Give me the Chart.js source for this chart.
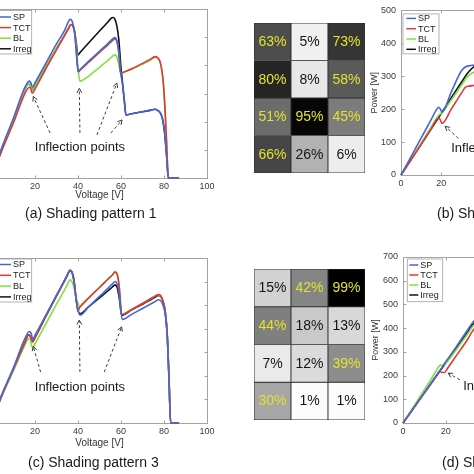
<!DOCTYPE html>
<html><head><meta charset="utf-8">
<script src="https://cdn.jsdelivr.net/npm/chart.js@4.4.0/dist/chart.umd.min.js"></script>
<style>
html,body{margin:0;padding:0;background:#fff;}
body{width:474px;height:474px;overflow:hidden;position:relative;font-family:"Liberation Sans",Arial,sans-serif;}
canvas{position:absolute;}
.cap{position:absolute;font-size:14px;color:#1a1a1a;white-space:nowrap;line-height:16px;}
</style></head><body>
<canvas id="cA" width="260" height="210" style="left:-30px;top:0px"></canvas>
<canvas id="hA" width="113" height="152" style="left:253px;top:22px"></canvas>
<canvas id="cB" width="270" height="210" style="left:355px;top:0px"></canvas>
<canvas id="cC" width="260" height="215" style="left:-30px;top:245px"></canvas>
<canvas id="hC" width="113" height="153" style="left:253px;top:268px"></canvas>
<canvas id="cD" width="280" height="215" style="left:355px;top:245px"></canvas>
<div class="cap" style="left:25px;top:205px">(a) Shading pattern 1</div>
<div class="cap" style="left:437px;top:205px">(b) Shading pattern 2</div>
<div class="cap" style="left:28px;top:454px">(c) Shading pattern 3</div>
<div class="cap" style="left:442px;top:454px">(d) Shading pattern 4</div>
<script>
// ---------- series ----------
const seriesNames = ['SP','TCT','BL','Irreg'];
const seriesColors = ['#4466d8','#e03838','#80e03c','#111111'];
const xTickStep = 20;
const yTickStep = 100;

// Panel (a) - shading pattern 1
const aSP_V  = [0,3.7,10,15.5,17.4,18.1,18.8,20,25,30,34,35.3,36.3,37.2,38,38.8,39.5,40.1,41,45,50,54,56,57.2,58,58.8,59.5,59.9,60.8,61.6,62.3,65,70,74,75.8,77,78.2,79.3,80.3,81.2,82,87];
const aSP_P  = [0,90,213,325,344,338,322,338,407,476,528,552,563,558,535,490,420,377,385,415,450,478,493,499,490,460,410,371,330,270,224,228,235,241,244,240,232,210,160,80,0,0];
const aTCT_V = [0,3.7,10,15.5,17.4,18.1,18.7,20,25,30,34,35.5,36.7,37.6,38.4,39.2,40.1,41,45,50,54,56,57.2,58,58.8,59.9,61,65,70,74,75.8,77,78.2,79,79.7,80.5,81.3,82,87];
const aTCT_P = [0,80,196,303,322,316,301,316,387,455,509,530,545,540,520,450,377,383,411,446,473,488,494,486,455,371,375,388,407,423,431,428,413,383,336,240,110,0,0];
const aBL_V  = [0,3.7,10,15.5,16.9,17.8,18.7,20,25,30,34,35.5,36.7,37.6,38.4,39.2,40,40.9,45,50,54,56,57.2,58,58.8,59.9,61,65,70,74,75.8,77,78.2,79,79.7,80.5,81.3,82,87];
const aBL_P  = [0,85,205,318,336,330,313,328,394,459,510,530,545,540,520,470,390,344,362,393,418,432,437,430,410,371,375,386,404,420,428,425,410,380,336,240,110,0,0];
const aIR_V  = [0,3.7,10,15.5,16.9,17.8,18.7,20,25,30,34,35.5,36.7,37.6,38.4,39.2,39.9,41,45,50,54,55.2,56.2,57.2,58.2,59,59.9,60.8,61.6,62.3,65,70,74,75.8,77,78.2,79.3,80.3,81.2,82,87];
const aIR_P  = [0,85,205,318,336,330,313,328,394,459,510,530,545,540,520,480,437,446,480,522,555,566,570,563,535,490,400,330,270,224,228,235,241,244,240,232,210,160,80,0,0];

// Panel (b) - shading pattern 2 (visible part)
const bSP_V  = [0,5,10,15,17.5,18.7,19.6,20.4,25,30,32,34,36.5,38];
const bSP_P  = [0,56,112,168,197,206,200,191,252,316,328,332,334,336];
const bTCT_V = [0,10,15,18.5,19.3,20.5,25,30,32,34,36.5,38];
const bTCT_P = [0,93,140,172,170,157,200,248,266,270,272,273];
const bBL_V  = [0,10,15,17,19,20.5,25,30,33,35,36.5,38];
const bBL_P  = [0,97,146,166,183,189,228,272,298,308,313,316];
const bIR_V  = [0,10,20,30,33,35,36.5,38];
const bIR_P  = [0,93,187,281,308,322,330,335];

// Panel (c) - shading pattern 3
const cSP_V  = [0,3.7,10,15.5,17.4,18.2,19,20,25,30,34,35.2,36.2,37.2,38.2,39.2,40.9,45,50,54,56,57.2,58.2,59.2,60.6,65,70,74,76,77.4,78.6,79.7,80.6,81.5,82.3,83.1,87];
const cSP_P  = [0,100,235,362,388,380,355,372,457,542,610,630,646,640,600,520,457,493,537,572,590,600,590,545,439,461,486,506,516,523,518,495,460,370,195,0,0];
const cTCT_V = [0,3.7,10,15.5,16.9,17.8,18.9,20,25,30,34,35.2,36.2,37.2,38.2,39.2,39.9,40.9,45,50,54,56,57.2,58.2,59.2,60.3,65,70,74,76,77.4,78.6,79.7,80.6,81.5,82.3,83.1,87];
const cTCT_P = [0,97,229,345,374,368,345,362,452,539,608,630,648,640,600,520,474,492,531,575,611,628,641,632,577,460,482,507,528,539,545,539,513,472,376,196,0,0];
const cBL_V  = [0,3.7,10,15.5,16.9,17.8,18.9,20,25,30,34,35.2,36.3,37.2,38.2,39.2,40.9,45,50,54,56,57.2,58.2,59.2,60.3,65,70,74,76,77.4,78.6,79.7,80.6,81.5,82.3,83.1,87];
const cBL_P  = [0,95,222,335,358,352,318,336,420,504,569,590,607,600,572,530,495,531,575,611,628,639,630,575,460,482,507,528,539,544,538,512,472,376,196,0,0];
const cIR_V  = [0,3.7,10,15.5,16.9,17.8,18.9,20,25,30,34,35.2,36.2,37.2,38.2,39.2,40.9,45,50,54,56,57.2,58.2,59.2,60.3,65,70,74,76,77.4,78.6,79.7,80.6,81.5,82.3,83.1,87];
const cIR_P  = [0,97,229,345,374,368,345,362,452,539,608,630,648,640,600,520,463,494,531,561,577,586,575,530,457,480,504,524,534,541,535,510,470,375,195,0,0];

// Panel (d) - shading pattern 4 (visible part)
const dSP_V  = [0,10,17,20,25,30,33.1,35,37];
const dSP_P  = [0,128,218,258,323,390,430,440,445];
const dTCT_V = [0,10,16.5,17.3,18,19.5,21,25,30,33.1,35,37];
const dTCT_P = [0,127,210,219,214,213,233,285,350,395,408,413];
const dBL_V  = [0,10,15,16.5,17.5,18.5,20,25,30,33.1,35,37];
const dBL_P  = [0,140,212,235,244,243,252,310,373,413,424,428];
const dIR_V  = [0,10,17,20,25,30,33.1,35,37];
const dIR_P  = [0,127,216,254,318,381,420,430,434];

// Shading maps (percent shading per module, rows top to bottom)
const shadeA = [[63,5,73],[80,8,58],[51,95,45],[66,26,6]];
const shadeC = [[15,42,99],[44,18,13],[7,12,39],[30,1,1]];

// Annotations: [tailV, tailP, headV, headP]
const aArrows = [[27,160,19.2,289],[40.9,160,40.6,318],[48.8,153,58.1,337],[55.3,160,60.5,206]];
const bArrows = [[28.6,111,22,148]];
const cArrows = [[22.6,216,19.2,325],[40.9,216,40.6,436],[52.2,216,60.3,408]];
const dArrows = [[26.6,182,21.1,210]];
const noteText = 'Inflection points';

// ---------- helpers ----------
Chart.defaults.font.family = '"Liberation Sans", Arial, Helvetica, sans-serif';
const FONT = '"Liberation Sans", Arial, Helvetica, sans-serif';
const pts = (V,P) => V.map((v,i)=>({x:v,y:P[i]}));

const frame = {
  id:'frame',
  beforeDatasetsDraw(chart){
    const {ctx, chartArea:ca, scales:{x,y}} = chart;
    ctx.save();
    ctx.strokeStyle='#a3a3a3'; ctx.lineWidth=1;
    const L=Math.round(ca.left)+0.5, T=Math.round(ca.top)+0.5, R=Math.round(ca.right)+0.5, B=Math.round(ca.bottom)+0.5;
    ctx.strokeRect(L,T,R-L,B-T);
    ctx.beginPath();
    x.ticks.forEach(t=>{const p=Math.round(x.getPixelForValue(t.value))+0.5; ctx.moveTo(p,B); ctx.lineTo(p,B-3); ctx.moveTo(p,T); ctx.lineTo(p,T+3);});
    y.ticks.forEach(t=>{const p=Math.round(y.getPixelForValue(t.value))+0.5; ctx.moveTo(L,p); ctx.lineTo(L+3,p); ctx.moveTo(R,p); ctx.lineTo(R-3,p);});
    ctx.stroke();
    ctx.restore();
  }
};

function makeLegend(o){
  return {
    id:'boxLegend',
    afterDraw(chart){
      const {ctx, chartArea:ca} = chart;
      const x0 = ca.left + o.x, y0 = ca.top + o.y;
      ctx.save();
      ctx.fillStyle='#fff'; ctx.fillRect(x0,y0,o.w,o.h);
      ctx.strokeStyle='#a0a0a0'; ctx.lineWidth=0.8; ctx.strokeRect(x0,y0,o.w,o.h);
      ctx.font = '9px '+FONT; ctx.textBaseline='middle'; ctx.textAlign='left';
      chart.data.datasets.forEach((ds,i)=>{
        const yy = y0 + o.first + i*o.row;
        ctx.strokeStyle = ds.borderColor; ctx.lineWidth=1.5;
        ctx.beginPath(); ctx.moveTo(x0+o.lx, yy); ctx.lineTo(x0+o.lx+o.ll, yy); ctx.stroke();
        ctx.fillStyle='#222'; ctx.fillText(ds.label, x0+o.lx+o.ll+2, yy+0.5);
      });
      ctx.restore();
    }
  };
}

function makeNotes(arrows, txt){
  return {
    id:'notes',
    afterDatasetsDraw(chart){
      const {ctx, scales:{x,y}} = chart;
      ctx.save();
      ctx.strokeStyle='#3c3c3c'; ctx.lineWidth=1;
      arrows.forEach(a=>{
        const x1=x.getPixelForValue(a[0]), y1=y.getPixelForValue(a[1]);
        const x2=x.getPixelForValue(a[2]), y2=y.getPixelForValue(a[3]);
        ctx.setLineDash([3,2.5]);
        ctx.beginPath(); ctx.moveTo(x1,y1); ctx.lineTo(x2,y2); ctx.stroke();
        ctx.setLineDash([]);
        const ang=Math.atan2(y2-y1,x2-x1), Lh=5, w=0.5;
        ctx.beginPath();
        ctx.moveTo(x2-Lh*Math.cos(ang-w), y2-Lh*Math.sin(ang-w));
        ctx.lineTo(x2,y2);
        ctx.lineTo(x2-Lh*Math.cos(ang+w), y2-Lh*Math.sin(ang+w));
        ctx.stroke();
      });
      ctx.font='13px '+FONT; ctx.fillStyle='#1a1a1a'; ctx.textAlign=txt.align; ctx.textBaseline='middle';
      ctx.fillText(noteText, x.getPixelForValue(txt.v), y.getPixelForValue(txt.p));
      ctx.restore();
    }
  };
}

function lineChart(id, sets, cfg){
  return new Chart(document.getElementById(id), {
    type:'line',
    data:{datasets: sets.map((s,i)=>({label:seriesNames[i], data:s, borderColor:seriesColors[i], backgroundColor:seriesColors[i],
      borderWidth:1.6, pointRadius:0, fill:false, cubicInterpolationMode:'monotone', clip:false}))},
    options:{responsive:false, animation:false, events:[], devicePixelRatio:1,
      layout:{padding:cfg.pad},
      plugins:{legend:{display:false}, tooltip:{enabled:false}},
      scales:{
        x:{type:'linear', min:0, max:100,
          ticks:{stepSize:xTickStep, font:{size:9}, color:'#3a3a3a', padding:3, maxRotation:0, autoSkip:false},
          grid:{display:false, drawTicks:false}, border:{display:false},
          title:{display:true, text:'Voltage [V]', font:{size:10}, color:'#333', padding:0},
          afterFit:s=>{s.height=cfg.xh;}},
        y:{type:'linear', min:0, max:cfg.ymax,
          ticks:{stepSize:yTickStep, display:cfg.yTicks, font:{size:9}, color:'#3a3a3a', padding:cfg.ytpad||5},
          grid:{display:false, drawTicks:false}, border:{display:false},
          title:{display:cfg.yTicks, text:'Power [W]', font:{size:9}, color:'#333', padding:{top:cfg.ytp||0, bottom:0}},
          afterFit:s=>{s.width=cfg.yw;}}
      }},
    plugins:[frame, makeLegend(cfg.leg), makeNotes(cfg.arrows, cfg.txt)]
  });
}

const shadeColor = v => { const g=Math.round(255*Math.pow(1-v/100,1.2)); return 'rgb('+g+','+g+','+g+')'; };

function heatChart(id, grid){
  const cellText = {
    id:'cellText',
    afterDatasetsDraw(chart){
      const ctx=chart.ctx; ctx.save();
      ctx.font='14px '+FONT; ctx.textAlign='center'; ctx.textBaseline='middle';
      chart.data.datasets.forEach((ds,r)=>{
        chart.getDatasetMeta(r).data.forEach((el,c)=>{
          const v=grid[r][c];
          const p=el.getProps(['x','y','base'],true);
          ctx.fillStyle = v>=30 ? '#e2e22e' : '#151515';
          ctx.fillText(v+'%', p.x, (p.y+p.base)/2+0.5);
        });
      });
      ctx.restore();
    }
  };
  return new Chart(document.getElementById(id), {
    type:'bar',
    data:{labels:['1','2','3'], datasets: grid.map((row,r)=>({label:'row'+(r+1), data: row.map(()=>1),
      backgroundColor: row.map(shadeColor), borderColor:'#2e2e2e', borderWidth:0.8, borderSkipped:false,
      barPercentage:1, categoryPercentage:1}))},
    options:{responsive:false, animation:false, events:[], devicePixelRatio:1, layout:{padding:1},
      plugins:{legend:{display:false}, tooltip:{enabled:false}},
      scales:{x:{display:false, stacked:true}, y:{display:false, stacked:true, min:0, max:4, reverse:true}}},
    plugins:[cellText]
  });
}

// ---------- charts ----------
lineChart('cA', [pts(aSP_V,aSP_P), pts(aTCT_V,aTCT_P), pts(aBL_V,aBL_P), pts(aIR_V,aIR_P)], {
  pad:{left:22, right:23, top:9, bottom:9}, xh:23, ymax:600, yTicks:false, yw:0,
  leg:{x:4, y:1.5, w:35.7, h:43.5, first:6.5, row:10.6, lx:3, ll:12},
  arrows:aArrows, txt:{v:40.9, p:110, align:'center'}
});
lineChart('cB', [pts(bSP_V,bSP_P), pts(bTCT_V,bTCT_P), pts(bBL_V,bBL_P), pts(bIR_V,bIR_P)], {
  pad:{left:5, right:23, top:9, bottom:9}, xh:26, ymax:500, yTicks:true, yw:41, ytp:9, ytpad:5,
  leg:{x:2, y:3.5, w:36, h:40, first:4.5, row:10.3, lx:3.4, ll:9.5},
  arrows:bArrows, txt:{v:25, p:80, align:'left'}
});
lineChart('cC', [pts(cSP_V,cSP_P), pts(cTCT_V,cTCT_P), pts(cBL_V,cBL_P), pts(cIR_V,cIR_P)], {
  pad:{left:22, right:23, top:13, bottom:11}, xh:26, ymax:700, yTicks:false, yw:0,
  leg:{x:4, y:1, w:35.7, h:43, first:5.5, row:10.8, lx:3, ll:12},
  arrows:cArrows, txt:{v:40.9, p:153, align:'center'}
});
lineChart('cD', [pts(dSP_V,dSP_P), pts(dTCT_V,dTCT_P), pts(dBL_V,dBL_P), pts(dIR_V,dIR_P)], {
  pad:{left:7, right:18, top:12, bottom:11}, xh:26, ymax:700, yTicks:true, yw:41, ytp:8, ytpad:5,
  leg:{x:4.3, y:2, w:35.4, h:42.7, first:6, row:10, lx:2, ll:9},
  arrows:dArrows, txt:{v:28.1, p:154, align:'left'}
});
heatChart('hA', shadeA);
heatChart('hC', shadeC);
</script>
</body></html>
